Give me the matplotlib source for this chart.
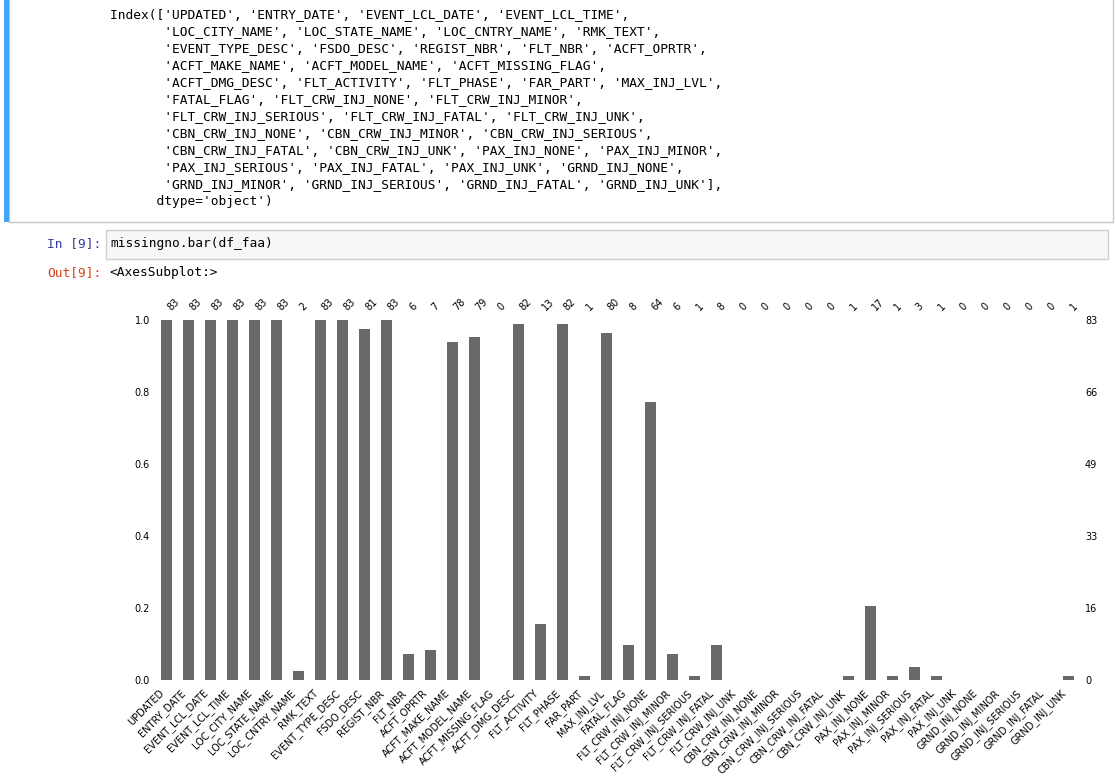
import numpy as np
import matplotlib
matplotlib.use("Agg")
from matplotlib import pyplot as plt
from matplotlib.patches import Rectangle

# column names of df_faa and their non-null counts (83 rows)
columns = ["UPDATED", "ENTRY_DATE", "EVENT_LCL_DATE", "EVENT_LCL_TIME",
           "LOC_CITY_NAME", "LOC_STATE_NAME", "LOC_CNTRY_NAME", "RMK_TEXT",
           "EVENT_TYPE_DESC", "FSDO_DESC", "REGIST_NBR", "FLT_NBR", "ACFT_OPRTR",
           "ACFT_MAKE_NAME", "ACFT_MODEL_NAME", "ACFT_MISSING_FLAG",
           "ACFT_DMG_DESC", "FLT_ACTIVITY", "FLT_PHASE", "FAR_PART", "MAX_INJ_LVL",
           "FATAL_FLAG", "FLT_CRW_INJ_NONE", "FLT_CRW_INJ_MINOR",
           "FLT_CRW_INJ_SERIOUS", "FLT_CRW_INJ_FATAL", "FLT_CRW_INJ_UNK",
           "CBN_CRW_INJ_NONE", "CBN_CRW_INJ_MINOR", "CBN_CRW_INJ_SERIOUS",
           "CBN_CRW_INJ_FATAL", "CBN_CRW_INJ_UNK", "PAX_INJ_NONE", "PAX_INJ_MINOR",
           "PAX_INJ_SERIOUS", "PAX_INJ_FATAL", "PAX_INJ_UNK", "GRND_INJ_NONE",
           "GRND_INJ_MINOR", "GRND_INJ_SERIOUS", "GRND_INJ_FATAL", "GRND_INJ_UNK"]
counts = [83, 83, 83, 83, 83, 83, 2, 83, 83, 81, 83, 6, 7, 78, 79, 0, 82, 13, 82, 1,
          80, 8, 64, 6, 1, 8, 0, 0, 0, 0, 0, 1, 17, 1, 3, 1, 0, 0, 0, 0, 0, 1]
n_rows = 83

# how many names pandas put on each line of the Index repr
line_groups = [4, 4, 5, 3, 5, 3, 3, 3, 4, 4, 4]

W, H = 1115, 782
fig = plt.figure(figsize=(W / 100, H / 100), dpi=100)
fig.patch.set_facecolor("white")

def px(x, y):
    return x / W, 1 - y / H

def rect(x0, y0, x1, y1, **kw):
    fx, fy = px(x0, y1)
    r = Rectangle((fx, fy), (x1 - x0) / W, (y1 - y0) / H,
                  transform=fig.transFigure, **kw)
    fig.add_artist(r)

mono = "DejaVu Sans Mono"
code_size = 9.3

# previous output cell (selected, blue bar on the left)
rect(9, -2, 1113, 222, facecolor="white", edgecolor="#c8c8c8", lw=1)
rect(4, -2, 9, 222, facecolor="#42a5f5", edgecolor="none")

# Index(...) repr text
lines = []
pos = 0
for i, g in enumerate(line_groups):
    names = ", ".join("'%s'" % c for c in columns[pos:pos + g])
    pos += g
    prefix = "Index([" if i == 0 else "       "
    suffix = "]," if i == len(line_groups) - 1 else ","
    lines.append(prefix + names + suffix)
lines.append("      dtype='object')")
for i, line in enumerate(lines):
    fx, fy = px(110, 15 + 17 * i)
    fig.text(fx, fy, line, family=mono, fontsize=code_size, va="center", color="black")

# input cell
rect(106, 230, 1108, 259, facecolor="#f7f7f7", edgecolor="#cfcfcf", lw=1)
fig.text(*px(101, 244), "In [9]:", family=mono, fontsize=code_size, va="center",
         ha="right", color="#303f9f")
fig.text(*px(110, 244), "missingno.bar(df_faa)", family=mono, fontsize=code_size,
         va="center", color="black")
fig.text(*px(101, 273), "Out[9]:", family=mono, fontsize=code_size, va="center",
         ha="right", color="#d84315")
fig.text(*px(110, 273), "<AxesSubplot:>", family=mono, fontsize=code_size,
         va="center", color="black")

# missingno style bar chart
ax_left, ax_right, ax_top, ax_bot = 155, 1079, 320, 680
ax = fig.add_axes([ax_left / W, 1 - ax_bot / H, (ax_right - ax_left) / W,
                   (ax_bot - ax_top) / H])
x = np.arange(len(columns))
frac = np.array(counts) / n_rows
ax.bar(x, frac, width=0.5, color="dimgray")
ax.set_xlim(-0.5, len(columns) - 0.5)
ax.set_ylim(0, 1)
ax.set_xticks(x)
ax.set_xticklabels(columns, rotation=45, ha="right", fontsize=7)
ax.set_yticks([0, 0.2, 0.4, 0.6, 0.8, 1.0])
ax.set_yticklabels(["0.0", "0.2", "0.4", "0.6", "0.8", "1.0"], fontsize=7)
ax.tick_params(axis="y", length=0, pad=3.6)
ax.tick_params(axis="x", length=0, pad=5.5)

ax2 = ax.twinx()
ax2.set_ylim(0, 1)
ax2.set_yticks(ax.get_yticks())
ax2.set_yticklabels([int(n * n_rows) for n in ax.get_yticks()], fontsize=7)
ax2.tick_params(axis="y", length=0, pad=4.3)

ax3 = ax.twiny()
ax3.set_xlim(ax.get_xlim())
ax3.set_xticks(x)
ax3.set_xticklabels(counts, rotation=45, ha="left", fontsize=7)
ax3.tick_params(axis="x", length=0, pad=5.5)

for a in (ax, ax2, ax3):
    for s in a.spines.values():
        s.set_visible(False)

fig.savefig("out.png", dpi=100)
